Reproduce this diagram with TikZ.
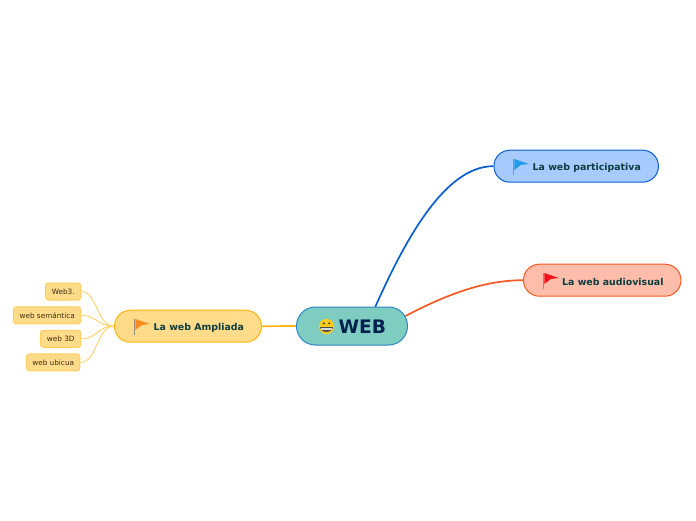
\documentclass[tikz,border=0pt]{standalone}
\usepackage{fontspec}
\setmainfont{DejaVu Sans}
\usetikzlibrary{backgrounds}
\definecolor{webfill}{HTML}{7FCDC1}
\definecolor{webline}{HTML}{2B86C5}
\definecolor{webtext}{HTML}{03204F}
\definecolor{ampfill}{HTML}{FFDB8A}
\definecolor{ampline}{HTML}{FFB612}
\definecolor{parfill}{HTML}{A8CBFF}
\definecolor{parline}{HTML}{0A5FD0}
\definecolor{audfill}{HTML}{FDBDAA}
\definecolor{audline}{HTML}{F55A23}
\definecolor{midtext}{HTML}{0B3D3D}
\definecolor{kidline}{HTML}{FFCE5E}
\definecolor{kidtext}{HTML}{3A2E10}
\definecolor{poleg}{HTML}{A08A80}
\definecolor{flago}{HTML}{FF8A1E}
\definecolor{flagb}{HTML}{1E9BEA}
\definecolor{flagr}{HTML}{F5131E}
\definecolor{emoji}{HTML}{FFCC1A}
\tikzset{
  x=1pt,y=-1pt,
  box/.style={draw,line width=1pt,rounded corners=#1,inner sep=0pt},
  mainbox/.style={box=15.9pt,minimum width=147pt,minimum height=32pt},
  midlabel/.style={font=\bfseries\fontsize{9.4}{11}\selectfont,text=midtext,inner sep=0pt,anchor=west},
  kidbox/.style={box=3pt,fill=ampfill,draw=kidline,minimum height=17pt,font=\fontsize{7.3}{9}\selectfont,text=kidtext},
  kidlink/.style={draw=kidline,line width=0.8pt},
  mainlink/.style={line width=1.7pt},
}
\newcommand{\flagmark}[3]{%
  \fill[poleg] (#1-0.7,#2-8) rectangle (#1+0.7,#2+8);
  \fill[#3] (#1+0.7,#2-7.5) -- (#1+15,#2-2.5) -- (#1+7,#2-1.5) -- (#1+0.7,#2+3.5) -- cycle;
}
\begin{document}
\begin{tikzpicture}
\useasboundingbox (0,0) rectangle (696,520);
\node[box=18.9pt,fill=webfill,draw=webline,minimum width=111pt,minimum height=38pt] (web) at (352,326) {};
\node[mainbox,fill=ampfill,draw=ampline] (amp) at (188,326.2) {};
\node[mainbox,fill=parfill,draw=parline,minimum width=164.5pt] (par) at (576.2,166.2) {};
\node[mainbox,fill=audfill,draw=audline,minimum width=157.5pt] (aud) at (602.2,280.2) {};
\node[kidbox,minimum width=35.5pt] (k1) at (63.2,291.5) {Web3.};
\node[kidbox,minimum width=67.5pt] (k2) at (47.2,315.4) {web semántica};
\node[kidbox,minimum width=40.5pt] (k3) at (60.7,338.8) {web 3D};
\node[kidbox,minimum width=53.5pt] (k4) at (53.2,362.4) {web ubicua};
\node[font=\bfseries\fontsize{18.6}{21}\selectfont,text=webtext,inner sep=0pt,anchor=west] (webt) at (338.5,327) {WEB};
\node[midlabel] (ampt) at (153.5,327.8) {La web Ampliada};
\node[midlabel] (part) at (532.5,167.8) {La web participativa};
\node[midlabel] (audt) at (562,281.8) {La web audiovisual};
\flagmark{134.7}{326.5}{flago}
\flagmark{513.7}{166.5}{flagb}
\flagmark{543.7}{280.5}{flagr}
% emoji
\fill[emoji] (326.5,326.5) circle (7.6);
\fill[black!70] (320,327) -- (333,327) arc[start angle=0,end angle=180,x radius=6.5,y radius=5] -- cycle;
\fill[white!85!black] (321.2,327.6) rectangle (331.8,329.6);
\fill[black!80] (323.8,323.3) circle (1.1) (329.2,323.3) circle (1.1);
\coordinate (webtop) at (375,307.5);
\coordinate (webside) at (405.5,316);
\begin{scope}[on background layer]
\fill[white] (0,0) rectangle (696,520);
\draw[mainlink,draw=ampline] (web.west) -- (amp.east);
\draw[mainlink,draw=parline] (webtop) .. controls (405,240) and (445,166) .. (par.west);
\draw[mainlink,draw=audline] (webside) .. controls (440,298) and (480,280.2) .. (aud.west);
\draw[kidlink] (k1.east) .. controls (97,291.5) and (97,326.2) .. (amp.west);
\draw[kidlink] (k2.east) .. controls (97,315.4) and (97,326.2) .. (amp.west);
\draw[kidlink] (k3.east) .. controls (97,338.8) and (97,326.2) .. (amp.west);
\draw[kidlink] (k4.east) .. controls (97,362.4) and (97,326.2) .. (amp.west);
\end{scope}
\end{tikzpicture}
\end{document}
